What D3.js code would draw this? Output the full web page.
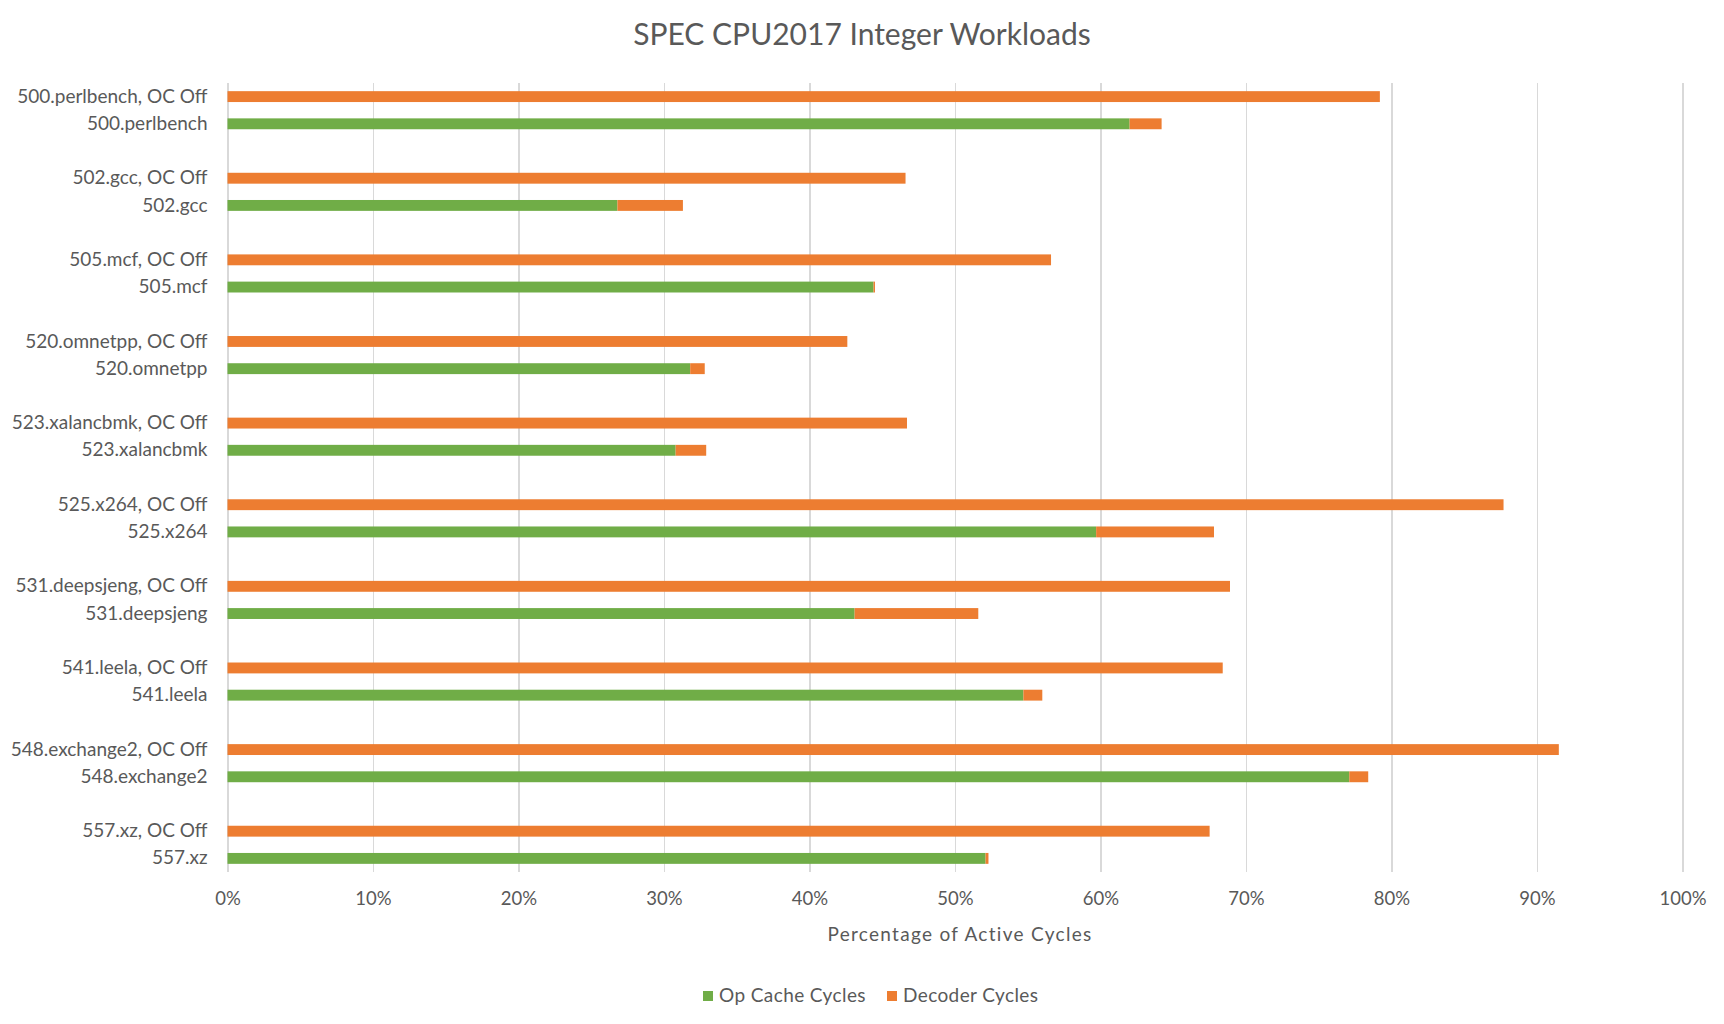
<!DOCTYPE html>
<html lang="en">
<head>
<meta charset="utf-8">
<title>SPEC CPU2017 Integer Workloads</title>
<script src="https://cdn.jsdelivr.net/npm/d3@7"></script>
<style>
body { margin: 0; background: #fff; }
text { font-family: Lato, "Open Sans", sans-serif; fill: #595959; }
.grid line { stroke: #d9d9d9; stroke-width: 1.5px; shape-rendering: crispEdges; }
.grid path { display: none; }
.axis path, .axis line { display: none; }
</style>
</head>
<body>
<script>
var w = 1724, h = 1024;
var margin = {top: 83, left: 227.5};

// benchmarks, top to bottom
var benchmarks = ["500.perlbench", "502.gcc", "505.mcf", "520.omnetpp", "523.xalancbmk",
                  "525.x264", "531.deepsjeng", "541.leela", "548.exchange2", "557.xz"];
// percent of active cycles
var opCacheCycles = [62.0, 26.8, 44.4, 31.8, 30.8, 59.7, 43.1, 54.7, 77.1, 52.1];
var decoderCycles = [2.2, 4.5, 0.1, 1.0, 2.1, 8.1, 8.5, 1.3, 1.3, 0.2];
var decoderOcOff  = [79.2, 46.6, 56.6, 42.6, 46.7, 87.7, 68.9, 68.4, 91.5, 67.5];
var xTicks = [0, 10, 20, 30, 40, 50, 60, 70, 80, 90, 100];

var seriesNames = ["Op Cache Cycles", "Decoder Cycles"];
var colors = ["#70ad47", "#ed7d31"];

// one row per bar, with an empty row between benchmarks
var rows = [];
benchmarks.forEach(function(b, i) {
  rows.push({label: b + ", OC Off", op: 0, dec: decoderOcOff[i]});
  rows.push({label: b, op: opCacheCycles[i], dec: decoderCycles[i]});
  if (i < benchmarks.length - 1) rows.push({label: "", op: 0, dec: 0, blank: true});
});

var iw = 1455, ih = 789;

var xScale = d3.scaleLinear().domain([0, 100]).range([0, iw]);
var yScale = d3.scaleBand()
               .domain(d3.range(rows.length))
               .range([0, ih])
               .paddingInner(0.6)
               .paddingOuter(0.3);

var svg = d3.select("body").append("svg")
            .attr("width", w)
            .attr("height", h);

svg.append("text")
   .attr("x", w / 2)
   .attr("y", 45)
   .attr("text-anchor", "middle")
   .attr("font-size", "30px")
   .text("SPEC CPU2017 Integer Workloads");

var g = svg.append("g")
           .attr("transform", "translate(" + margin.left + "," + margin.top + ")");

// vertical gridlines
g.append("g")
 .attr("class", "grid")
 .attr("transform", "translate(0," + ih + ")")
 .call(d3.axisBottom(xScale).tickValues(xTicks).tickSize(-ih).tickFormat(""));

var stack = d3.stack().keys(["op", "dec"]);
var layers = stack(rows);

g.selectAll("g.layer")
 .data(layers)
 .enter()
 .append("g")
 .attr("class", "layer")
 .attr("fill", function(d, i) { return colors[i]; })
 .selectAll("rect")
 .data(function(d) { return d.filter(function(p) { return !p.data.blank && p[1] > p[0]; }); })
 .enter()
 .append("rect")
 .attr("x", function(d) { return xScale(d[0]); })
 .attr("width", function(d) { return xScale(d[1]) - xScale(d[0]); })
 .attr("y", function(d) { return yScale(rows.indexOf(d.data)); })
 .attr("height", yScale.bandwidth());

// category labels
g.append("g")
 .attr("class", "axis")
 .attr("transform", "translate(-20,0)")
 .call(d3.axisLeft(yScale).tickSize(0).tickPadding(0).tickFormat(function(i) { return rows[i].label; }))
 .selectAll("text")
 .attr("font-size", "19px")
 .attr("fill", "#595959");

// x tick labels
g.append("g")
 .attr("class", "axis")
 .attr("transform", "translate(0," + ih + ")")
 .call(d3.axisBottom(xScale).tickValues(xTicks).tickSize(0).tickPadding(20)
        .tickFormat(function(d) { return d + "%"; }))
 .selectAll("text")
 .attr("font-size", "18.5px")
 .attr("fill", "#595959");

svg.append("text")
   .attr("x", margin.left + xScale(50) + 5)
   .attr("y", 941)
   .attr("text-anchor", "middle")
   .attr("font-size", "19px")
   .attr("letter-spacing", "1.3px")
   .text("Percentage of Active Cycles");

// legend
var legendX = [703, 887];
var legend = svg.selectAll("g.legend")
                .data(seriesNames)
                .enter()
                .append("g")
                .attr("class", "legend")
                .attr("transform", function(d, i) { return "translate(" + legendX[i] + ",991)"; });
legend.append("rect")
      .attr("width", 10)
      .attr("height", 10)
      .attr("fill", function(d, i) { return colors[i]; });
legend.append("text")
      .attr("x", 16)
      .attr("y", 11)
      .attr("font-size", "19px")
      .attr("letter-spacing", "0.4px")
      .text(function(d) { return d; });
</script>
</body>
</html>
